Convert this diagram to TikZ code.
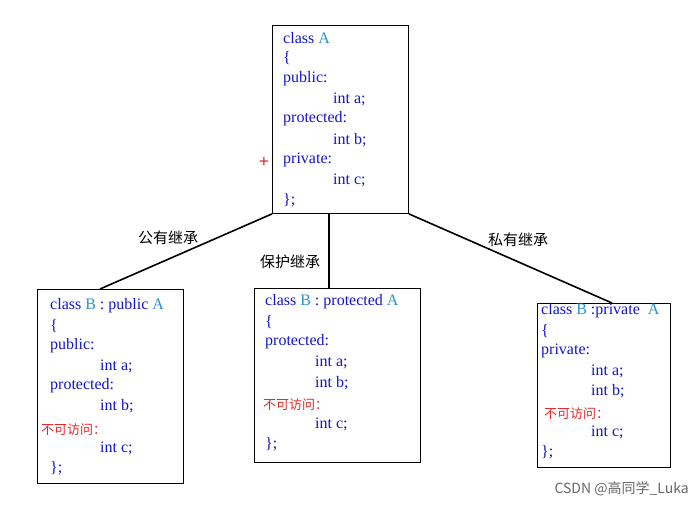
\documentclass[tikz,border=0pt]{standalone}
\usepackage{fontspec}
\setmainfont{Liberation Serif}
\newfontfamily\cjk{Noto Sans CJK SC}
\definecolor{kw}{RGB}{20,20,200}
\definecolor{cl}{RGB}{40,150,200}
\definecolor{rd}{RGB}{230,40,40}
\begin{document}
\begin{tikzpicture}[x=1pt,y=-1pt,
  box/.style={draw,line width=0.9pt,anchor=north west,inner sep=0pt},
  t/.style={anchor=west,inner sep=0pt,font=\fontsize{16}{16}\selectfont,text=kw},
  r/.style={anchor=west,inner sep=0pt,font=\cjk\fontsize{13}{13}\selectfont,text=rd},
  lab/.style={inner sep=1pt,font=\cjk\fontsize{15}{15}\selectfont},
  conn/.style={line width=1.6pt}]
\useasboundingbox (0,0) rectangle (700,507);
\node[box,minimum width=136pt,minimum height=188pt] (A) at (272,25) {};
\node[box,minimum width=146pt,minimum height=194pt] (B1) at (37,289) {};
\node[box,minimum width=166pt,minimum height=174pt] (B2) at (254,288) {};
\node[box,minimum width=133pt,minimum height=164pt] (B3) at (537,303) {};
% top box
\node[t] (a1) at (283,38) {class \textcolor{cl}{A}};
\node[t] (a2) at (283,58) {\{};
\node[t] (a3) at (283,79) {public:};
\node[t] (a4) at (333,99) {int a;};
\node[t] (a5) at (283,119) {protected:};
\node[t] (a6) at (333,140) {int b;};
\node[t] (a7) at (283,160) {private:};
\node[t] (a8) at (333,180) {int c;};
\node[t] (a9) at (283,200) {\};};
\node[text=rd,font=\bfseries\fontsize{18}{18}\selectfont,inner sep=0pt] (plus) at (264,162) {+};
% left
\node[t] (b1) at (50,306) {class \textcolor{cl}{B} : public \textcolor{cl}{A}};
\node[t] (b2) at (50,326) {\{};
\node[t] (b3) at (50,346) {public:};
\node[t] (b4) at (100,366) {int a;};
\node[t] (b5) at (50,386) {protected:};
\node[t] (b6) at (100,406) {int b;};
\node[r] (b7) at (41,430) {不可访问：};
\node[t] (b8) at (100,448) {int c;};
\node[t] (b9) at (50,468) {\};};
% middle
\node[t] (c1) at (265,302) {class \textcolor{cl}{B} : protected \textcolor{cl}{A}};
\node[t] (c2) at (265,322) {\{};
\node[t] (c3) at (265,342) {protected:};
\node[t] (c4) at (315,362) {int a;};
\node[t] (c5) at (315,383) {int b;};
\node[r] (c6) at (263,405) {不可访问：};
\node[t] (c7) at (315,424) {int c;};
\node[t] (c8) at (265,444) {\};};
% right
\node[t] (d1) at (541,311) {class \textcolor{cl}{B} :private \ \textcolor{cl}{A}};
\node[t] (d2) at (541,331) {\{};
\node[t] (d3) at (541,351) {private:};
\node[t] (d4) at (591,371) {int a;};
\node[t] (d5) at (591,391) {int b;};
\node[r] (d6) at (544,414) {不可访问：};
\node[t] (d7) at (591,432) {int c;};
\node[t] (d8) at (541,452) {\};};
% connectors
\coordinate (pA2) at ([xshift=57pt]A.south west);
\coordinate (pB1) at ([xshift=63pt]B1.north west);
\coordinate (pB2) at ([xshift=75pt]B2.north west);
\coordinate (pB3) at ([xshift=75pt]B3.north west);
\draw[conn] (A.south west) -- (pB1);
\draw[conn] (pA2) -- (pB2);
\draw[conn] (A.south east) -- (pB3);
\node[lab] (l1) at (168,238) {公有继承};
\node[lab] (l2) at (290,262) {保护继承};
\node[lab] (l3) at (518,240) {私有继承};
\node[font=\cjk\fontsize{14}{14}\selectfont,text=gray!80!black,anchor=east,inner sep=0pt] (wm) at (689,489) {CSDN @高同学\_Luka};
\end{tikzpicture}
\end{document}
